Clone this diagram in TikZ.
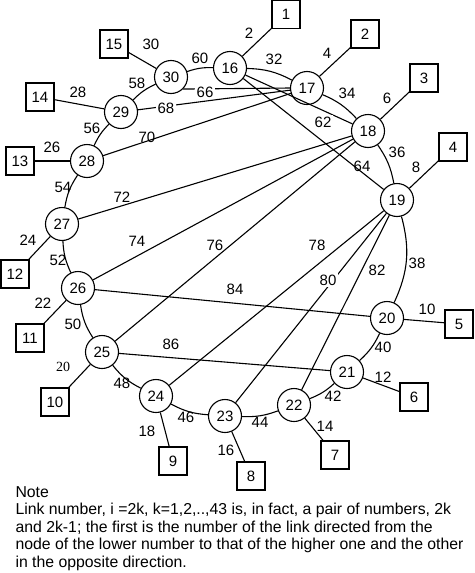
\documentclass[tikz,border=0pt]{standalone}
\usepackage{fontspec}
\setmainfont{Liberation Sans}
\newfontfamily\serifnum{Liberation Serif}
\begin{document}
\begin{tikzpicture}[x=1pt,y=1pt,line width=1.1pt,
  cnode/.style={circle,draw,minimum size=33pt,inner sep=0pt,font=\fontsize{15}{15}\selectfont},
  bnode/.style={rectangle,draw,minimum size=28pt,inner sep=0pt,font=\fontsize{15}{15}\selectfont},
  lab/.style={inner sep=1pt,font=\fontsize{15}{15}\selectfont},
  gaplab/.style={lab,fill=white,inner sep=2pt},
  notetext/.style={anchor=base west,inner sep=0pt,font=\fontsize{15.8}{15.8}\selectfont}]
\useasboundingbox (0,0) rectangle (474,-573);
% ring nodes
\node[cnode] (n16) at (230,-68) {16};
\node[cnode] (n17) at (307,-88) {17};
\node[cnode] (n18) at (368,-131) {18};
\node[cnode] (n19) at (397,-200) {19};
\node[cnode] (n20) at (387,-318) {20};
\node[cnode] (n21) at (347,-372) {21};
\node[cnode] (n22) at (294,-405) {22};
\node[cnode] (n23) at (225,-416) {23};
\node[cnode] (n24) at (156,-396) {24};
\node[cnode] (n25) at (102,-352) {25};
\node[cnode] (n26) at (78,-288) {26};
\node[cnode] (n27) at (62,-224) {27};
\node[cnode] (n28) at (87,-161) {28};
\node[cnode] (n29) at (121,-112) {29};
\node[cnode] (n30) at (171,-77) {30};
% boxes
\node[bnode] (b1) at (286,-14.5) {1};
\node[bnode] (b2) at (365,-34) {2};
\node[bnode] (b3) at (424,-78) {3};
\node[bnode] (b4) at (453,-147) {4};
\node[bnode] (b5) at (459,-324) {5};
\node[bnode] (b6) at (414,-397) {6};
\node[bnode] (b7) at (335,-455) {7};
\node[bnode] (b8) at (251,-476) {8};
\node[bnode] (b9) at (173,-461) {9};
\node[bnode] (b10) at (55,-402) {10};
\node[bnode] (b11) at (30,-338) {11};
\node[bnode] (b12) at (15,-274) {12};
\node[bnode] (b13) at (20,-161) {13};
\node[bnode] (b14) at (40,-97) {14};
\node[bnode] (b15) at (114,-44) {15};
% leaf links
\draw (b1) -- (n16);
\draw (b2) -- (n17);
\draw (b3) -- (n18);
\draw (b4) -- (n19);
\draw (b5) -- (n20);
\draw (b6) -- (n21);
\draw (b7) -- (n22);
\draw (b8) -- (n23);
\draw (b9) -- (n24);
\draw (b10) -- (n25);
\draw (b11) -- (n26);
\draw (b12) -- (n27);
\draw (b13) -- (n28);
\draw (b14) -- (n29);
\draw (b15) -- (n30);
% ring links
\draw (n16) to[bend left=13] (n17);
\draw (n17) to[bend left=12] (n18);
\draw (n18) to[bend left=12] (n19);
\draw (n19) to[bend left=20] (n20);
\draw (n20) to[bend left=11] (n21);
\draw (n21) to[bend left=10] (n22);
\draw (n22) to[bend left=11] (n23);
\draw (n23) to[bend left=12] (n24);
\draw (n24) to[bend left=12] (n25);
\draw (n25) to[bend left=12] (n26);
\draw (n26) to[bend left=11] (n27);
\draw (n27) to[bend left=12] (n28);
\draw (n28) to[bend left=10] (n29);
\draw (n29) to[bend left=10] (n30);
\draw (n30) to[bend left=10] (n16);
% chords
\draw (n16) -- (n18);
\draw (n16) -- (n19);
\draw (n30.-45) -- (n17.west);
\draw (n29) -- (n17);
\draw (n28) -- (n17);
\draw (n27) -- (n18);
\draw (n26) -- (n18);
\draw (n25) -- (n18);
\draw (n24) -- (n19);
\draw (n23) -- (n19);
\draw (n22) -- (n19);
\draw (n26) -- (n20);
\draw (n25) -- (n21);
% leaf labels
\node[lab] (l2) at (249,-33) {2};
\node[lab] (l4) at (327,-53) {4};
\node[lab] (l6) at (387,-98) {6};
\node[lab] (l8) at (416,-167) {8};
\node[lab] (l10) at (427,-309) {10};
\node[lab] (l12) at (383,-377) {12};
\node[lab] (l14) at (325,-426) {14};
\node[lab] (l16) at (226,-450) {16};
\node[lab] (l18) at (147,-431) {18};
\node[lab,font=\serifnum\fontsize{14}{14}\selectfont] (l20) at (63,-367) {20};
\node[lab] (l22) at (43,-303) {22};
\node[lab] (l24) at (28,-240) {24};
\node[lab] (l26) at (52,-147) {26};
\node[lab] (l28) at (78,-92) {28};
\node[lab] (l30) at (151,-44) {30};
% ring labels
\node[lab] (l32) at (274,-59) {32};
\node[lab] (l34) at (347,-93) {34};
\node[lab] (l36) at (397,-152) {36};
\node[lab] (l38) at (417,-263) {38};
\node[lab] (l40) at (383,-347) {40};
\node[lab] (l42) at (333,-396) {42};
\node[lab] (l44) at (260,-422) {44};
\node[lab] (l46) at (186,-417) {46};
\node[lab] (l48) at (122,-383) {48};
\node[lab] (l50) at (73,-324) {50};
\node[lab] (l52) at (58,-260) {52};
\node[lab] (l54) at (63,-187) {54};
\node[lab] (l56) at (92,-128) {56};
\node[lab] (l58) at (137,-83) {58};
\node[lab] (l60) at (200,-58) {60};
% chord labels
\node[gaplab] (l62) at (323,-122) {62};
\node[lab] (l64) at (362,-166) {64};
\node[gaplab] (l66) at (205,-92) {66};
\node[gaplab] (l68) at (166,-108) {68};
\node[lab] (l70) at (147,-137) {70};
\node[lab] (l72) at (122,-197) {72};
\node[lab] (l74) at (137,-241) {74};
\node[lab] (l76) at (215,-245) {76};
\node[lab] (l78) at (317,-245) {78};
\node[gaplab] (l80) at (328,-280) {80};
\node[lab] (l82) at (377,-270) {82};
\node[lab] (l84) at (235,-289) {84};
\node[lab] (l86) at (171,-344) {86};
% note
\node[notetext] (t1) at (15,-497) {Note};
\node[notetext] (t2) at (15,-514.6) {Link number, i =2k, k=1,2,..,43 is, in fact, a pair of numbers, 2k};
\node[notetext] (t3) at (15,-532.2) {and 2k-1; the first is the number of the link directed from the};
\node[notetext] (t4) at (15,-549.8) {node of the lower number to that of the higher one and the other};
\node[notetext] (t5) at (15,-567.4) {in the opposite direction.};
\end{tikzpicture}
\end{document}
